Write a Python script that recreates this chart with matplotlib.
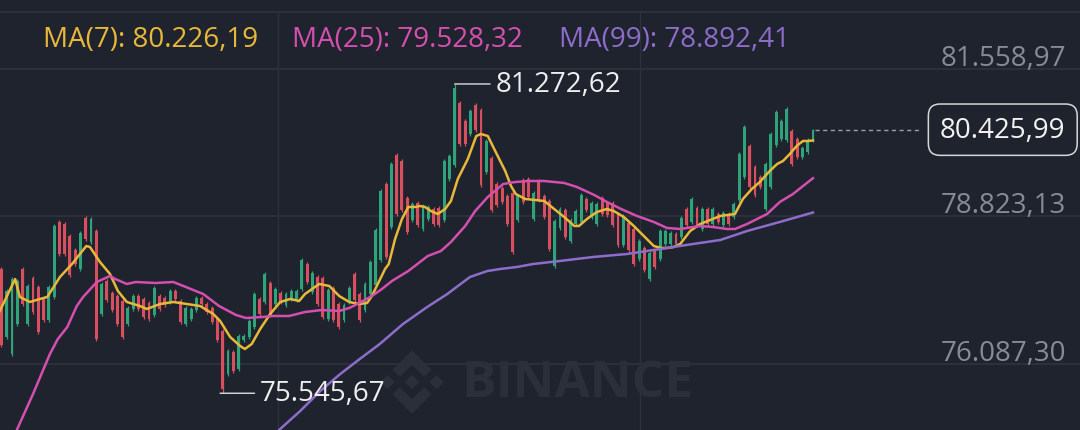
import numpy as np
import matplotlib.pyplot as plt
from matplotlib.patches import Polygon
from matplotlib.lines import Line2D

plt.rcParams['font.family'] = ['Open Sans', 'DejaVu Sans']

# --- candles ---
opens = [77843, 76590, 76275, 76831, 77843, 76831, 77677, 77510, 77306, 76905,
         77331, 78714, 78677, 78454, 78195, 77849, 78788, 78349, 78547, 77016,
         77621, 77399, 77343, 77251, 76831, 77109, 77343, 77288, 77214, 76998,
         77343, 77306, 77238, 77436, 77251, 76831, 76924, 77090, 77306, 77195,
         77121, 76918, 76695, 75905, 76307, 75998, 76535, 76590, 76775, 77288,
         77238, 77584, 77201, 77399, 77183, 77294, 77275, 77479, 77936, 77423,
         77695, 77677, 76924, 77492, 77195, 76905, 77238, 77751, 77380, 77090,
         77386, 77553, 78016, 79417, 78627, 79954, 79843, 79158, 78757, 79066,
         78590, 78775, 78954, 78973, 78757, 79516, 79775, 80917, 80584, 80349,
         80880, 80788, 79646, 79899, 79417, 79343, 79195, 79251, 78757, 79491,
         79510, 78775, 79473, 79195, 79103, 77905, 78609, 78936, 78368, 78683,
         78720, 79140, 78812, 78683, 79158, 79066, 79066, 78862, 78294, 78695,
         78584, 78035, 78232, 77664, 78177, 78035, 78312, 78312, 78492, 78442,
         78954, 78720, 78973, 78590, 78954, 78683, 78862, 78664, 78862, 78812,
         79127, 79553, 80121, 79732, 79547, 78960, 79368, 80145, 80257, 80238,
         80399, 80251, 79923, 80016, 80220]
closes = [76442, 77436, 77658, 77621, 77201, 77529, 77053, 76683, 76905, 77510,
          78640, 78127, 78127, 77738, 77942, 78510, 78405, 78769, 76553, 77566,
          77275, 77090, 76831, 76590, 77121, 77343, 77109, 76961, 76924, 77492,
          77109, 77183, 77436, 77294, 76868, 77121, 77103, 77306, 77201, 77053,
          76868, 76535, 75620, 76325, 75961, 76603, 76603, 76881, 77380, 77016,
          77751, 76998, 77473, 77238, 77380, 77436, 77436, 78010, 77609, 77769,
          77201, 76961, 77455, 76905, 76775, 77177, 77492, 77275, 76905, 77566,
          77973, 78566, 79288, 78072, 79788, 78868, 78942, 78534, 79047, 78664,
          79010, 78991, 78683, 78664, 79843, 79936, 81200, 80164, 80164, 80769,
          80423, 79405, 80214, 78942, 79034, 79090, 78683, 78164, 79195, 79090,
          79183, 79251, 79127, 78812, 78220, 78732, 78954, 78442, 78751, 78917,
          79214, 78942, 79066, 79047, 78868, 78849, 78664, 78294, 78825, 78201,
          77942, 78362, 77831, 78140, 77886, 78547, 78547, 78510, 78312, 78788,
          78664, 79140, 78664, 78954, 78683, 78954, 78720, 78880, 78683, 79047,
          79973, 80473, 79368, 79220, 79368, 79788, 80343, 80751, 80584, 80806,
          79794, 79923, 80084, 80232, 80425.99]
highs = [77883, 77476, 77698, 77661, 77883, 77569, 77717, 77550, 77346, 77550,
         78680, 78754, 78717, 78494, 78235, 78550, 78828, 78809, 78587, 77606,
         77661, 77439, 77383, 77291, 77161, 77383, 77383, 77328, 77254, 77532,
         77383, 77346, 77476, 77476, 77291, 77161, 77143, 77346, 77346, 77235,
         77161, 76958, 76735, 76365, 76347, 76643, 76643, 76921, 77420, 77328,
         77791, 77624, 77513, 77439, 77420, 77476, 77476, 78050, 77976, 77809,
         77735, 77717, 77495, 77532, 77235, 77217, 77532, 77791, 77420, 77606,
         78013, 78606, 79328, 79457, 79828, 79994, 79883, 79198, 79087, 79106,
         79050, 79031, 78994, 79013, 79883, 79976, 81272.62, 80957, 80624, 80809,
         80920, 80828, 80254, 79939, 79457, 79383, 79235, 79291, 79235, 79531,
         79550, 79291, 79513, 79235, 79143, 78772, 78994, 78976, 78791, 78957,
         79254, 79180, 79106, 79087, 79198, 79106, 79106, 78902, 78865, 78735,
         78624, 78402, 78272, 78180, 78217, 78587, 78587, 78550, 78532, 78828,
         78994, 79180, 79013, 78994, 78994, 78994, 78902, 78920, 78902, 79087,
         80013, 80513, 80161, 79772, 79587, 79828, 80383, 80791, 80624, 80846,
         80439, 80291, 80124, 80272, 80440]
lows = [76402, 76550, 76235, 76791, 77161, 76791, 77013, 76643, 76865, 76865,
        77291, 78087, 78087, 77698, 77902, 77809, 78365, 78309, 76513, 76976,
        77235, 77050, 76791, 76550, 76791, 77069, 77069, 76921, 76884, 76958,
        77069, 77143, 77198, 77254, 76828, 76791, 76884, 77050, 77161, 77013,
        76828, 76495, 75545.67, 75865, 75921, 75958, 76495, 76550, 76735, 76976,
        77198, 76958, 77161, 77198, 77143, 77254, 77235, 77439, 77569, 77383,
        77161, 76921, 76884, 76865, 76735, 76865, 77198, 77235, 76865, 77050,
        77346, 77513, 77976, 78032, 78587, 78828, 78902, 78494, 78717, 78624,
        78550, 78735, 78643, 78624, 78717, 79476, 79735, 80124, 80124, 80309,
        80383, 79365, 79606, 78902, 78994, 79050, 78643, 78124, 78717, 79050,
        79143, 78735, 79087, 78772, 78180, 77865, 78569, 78402, 78328, 78643,
        78680, 78902, 78772, 78643, 78828, 78809, 78624, 78254, 78254, 78161,
        77902, 77995, 77791, 77624, 77846, 77995, 78272, 78272, 78272, 78402,
        78624, 78680, 78624, 78550, 78643, 78643, 78680, 78624, 78643, 78772,
        79087, 79513, 79328, 79180, 79328, 78920, 79328, 80105, 80217, 80198,
        79754, 79883, 79883, 79976, 80198]

# --- moving averages (sampled along the drawn lines: candle index, price) ---
ma7_x = [-0.3, 2.6, 3.5, 5.4, 7.3, 8.7, 11.1, 13.4, 14.9, 16.1, 16.8, 18.7, 20.6,
         22.1, 23.8, 26.3, 27.6, 30.1, 32.6, 35.2, 37.7, 40.2, 41.5, 43.4, 45.3,
         46.2, 47.5, 49.1, 51.0, 52.9, 54.8, 56.5, 57.6, 60.3, 62.2, 64.1, 66.0,
         67.9, 69.4, 70.3, 71.6, 72.8, 73.5, 74.7, 76.0, 77.2, 78.5, 79.4, 80.4,
         81.5, 82.8, 84.2, 85.3, 86.6, 88.5, 90.1, 91.0, 92.3, 93.7, 95.6, 96.7,
         97.6, 99.4, 101.3, 103.0, 104.9, 106.8, 108.7, 109.6, 111.1, 113.0,
         114.9, 116.2, 118.1, 120.0, 121.9, 123.8, 125.2, 126.3, 127.6, 128.8,
         130.7, 132.6, 134.5, 136.4, 139.2, 140.7, 142.4, 143.9, 145.8, 147.2,
         148.3, 149.6, 150.9, 152.1, 153.1, 154]
ma7 = [77069, 77661, 77328, 77235, 77291, 77328, 77698, 77939, 78124, 78272,
       78254, 77976, 77754, 77439, 77235, 77161, 77106, 77198, 77235, 77198,
       77161, 77013, 76884, 76588, 76421, 76365, 76458, 76735, 77013, 77235,
       77291, 77254, 77383, 77569, 77532, 77346, 77235, 77198, 77217, 77346,
       77606, 77846, 77939, 78402, 78772, 78994, 78994, 79013, 78994, 78920,
       78865, 78957, 79106, 79513, 79883, 80309, 80346, 80309, 80031, 79661,
       79383, 79235, 79143, 79124, 79106, 78957, 78809, 78643, 78643, 78772,
       78902, 78957, 78920, 78809, 78643, 78457, 78272, 78235, 78235, 78254,
       78309, 78550, 78680, 78754, 78828, 78865, 79143, 79328, 79457, 79661,
       79791, 79846, 79976, 80124, 80217, 80217, 80226.19]
ma25_x = [2.0, 3.0, 6.0, 9.2, 10.7, 12.5, 14.3, 15.5, 18.1, 20.6, 21.6, 23.8,
          25.5, 29.3, 32.6, 35.0, 38.3, 41.3, 44.5, 46.4, 49.6, 51.3, 54.6,
          57.6, 60.8, 64.1, 66.0, 67.9, 70.3, 72.2, 74.1, 77.2, 80.9, 83.4,
          85.3, 88.0, 89.9, 92.3, 95.2, 97.5, 100.0, 103.0, 106.8, 109.2,
          112.5, 114.9, 117.6, 120.6, 123.8, 126.3, 128.8, 132.6, 135.0,
          137.7, 139.2, 141.5, 145.3, 147.7, 150.2, 154]
ma25 = [74606, 74883, 75532, 76272, 76550, 76772, 77161, 77328, 77606, 77717,
        77661, 77569, 77606, 77587, 77606, 77513, 77383, 77161, 76995, 76939,
        76958, 76976, 76976, 77050, 77087, 77069, 77124, 77217, 77346, 77476,
        77624, 77809, 78087, 78180, 78346, 78643, 78920, 79180, 79420, 79457,
        79476, 79476, 79439, 79365, 79217, 79087, 78957, 78828, 78717, 78606,
        78587, 78643, 78624, 78587, 78587, 78680, 78865, 79087, 79235, 79528.32]
ma99_x = [49.5, 52.9, 56.7, 60.5, 64.3, 68.0, 71.8, 76.2, 80.8, 84.6, 88.9,
          92.2, 94.6, 97.8, 100.9, 106.0, 112.3, 118.7, 125.0, 131.2, 136.4,
          141.5, 147.7, 154]
ma99 = [74550, 74884, 75217, 75587, 75902, 76180, 76458, 76828, 77143, 77383,
        77698, 77809, 77846, 77883, 77939, 77995, 78069, 78124, 78217, 78309,
        78383, 78550, 78717, 78892.41]

ma_labels = ['MA(7)', 'MA(25)', 'MA(99)']
price_levels = [81558.97, 78823.13, 76087.30]
time_grid = [52.5, 121.2]

BG = '#1f232d'
GRID = '#2d313b'
UP = '#2fa47b'
DOWN = '#d8505f'
MA_COLORS = ['#e8b83a', '#d54fb0', '#8d6dcb']
AXIS_TXT = '#868b95'
FS = 20


def fmt(v):
    s = f"{v:,.2f}"
    return s.replace(",", " ").replace(".", ",").replace(" ", ".")


fig = plt.figure(figsize=(10.8, 4.31), dpi=100, facecolor=BG)
ax = fig.add_axes([0, 0, 1, 1])
ax.set_facecolor(BG)
ax.set_xlim(-0.27, 204.67)
ax.set_ylim(74865, 82846)
ax.axis('off')

# grid
for lv in price_levels:
    ax.axhline(lv, color=GRID, lw=1.4, zorder=0)
for t in time_grid:
    ax.axvline(t, ymax=0.97, color=GRID, lw=1.0, zorder=0)
fig.add_artist(Line2D([0, 1], [0.969, 0.969], color=GRID, lw=1.4))

# watermark
fig.text(577 / 1080, 1 - 384 / 431, 'BINANCE', color='#2a2f3a', fontsize=37,
         fontweight='bold', ha='center', va='center', zorder=0)
cx, cy, k = 412, 431 - 383, 0.5
logo = [
    [(38.73, 53.2), (63.3, 28.64), (87.89, 53.22), (102.19, 38.92), (63.3, 0), (24.43, 38.9)],
    [(0, 63.3), (14.3, 49), (28.6, 63.3), (14.3, 77.6)],
    [(38.73, 73.41), (63.3, 97.98), (87.89, 73.39), (102.2, 87.69), (63.3, 126.6), (24.43, 87.71)],
    [(98, 63.31), (112.3, 49), (126.6, 63.3), (112.3, 77.61)],
    [(77.83, 63.3), (63.3, 48.76), (48.78, 63.28), (63.3, 77.79)],
]
for poly in logo:
    pts = [(cx + (px - 63.3) * k, cy - (py - 63.3) * k) for px, py in poly]
    fig.add_artist(Polygon(pts, closed=True, transform=None, fc='#2a2f3a', ec='none', zorder=0))

# candles
idx = np.arange(len(opens))
o, c, h, l = map(np.array, (opens, closes, highs, lows))
col = np.where(c >= o, UP, DOWN)
ax.vlines(idx, l, h, colors=col, lw=0.9, zorder=2)
ax.bar(idx, np.maximum(np.abs(c - o), 15), bottom=np.minimum(o, c), width=0.55,
       color=col, zorder=2)

# moving averages
for xs, ys, cc in zip([ma7_x, ma25_x, ma99_x], [ma7, ma25, ma99], MA_COLORS):
    ax.plot(xs, ys, color=cc, lw=1.8, zorder=3, solid_joinstyle='round')

# legend text on top
for xp, lab, val, cc in zip([43, 292, 559], ma_labels, [ma7[-1], ma25[-1], ma99[-1]], MA_COLORS):
    fig.text(xp / 1080, 1 - 40 / 431, f"{lab}: {fmt(val)}", color=cc, fontsize=FS,
             ha='left', va='center')

# price axis labels
for lv in price_levels:
    ax.annotate(fmt(lv), xy=(1.0, lv), xycoords=('axes fraction', 'data'),
                xytext=(-14, -3), textcoords='offset pixels', ha='right', va='bottom',
                color=AXIS_TXT, fontsize=FS)

# high / low markers
hi_i = int(np.argmax(h))
lo_i = int(np.argmin(l))
ax.annotate(fmt(h[hi_i]), xy=(hi_i, h[hi_i]), xytext=(41, 0), textcoords='offset pixels',
            va='center', ha='left', color='#eeeeee', fontsize=FS,
            arrowprops=dict(arrowstyle='-', color='#dddddd', lw=1.0, shrinkA=2, shrinkB=0,
                            relpos=(0, 0.5)))
ax.annotate(fmt(l[lo_i]), xy=(lo_i - 0.5, l[lo_i]), xytext=(40, 0), textcoords='offset pixels',
            va='center', ha='left', color='#eeeeee', fontsize=FS,
            arrowprops=dict(arrowstyle='-', color='#dddddd', lw=1.0, shrinkA=2, shrinkB=0,
                            relpos=(0, 0.5)))

# last price
last = closes[-1]
ax.hlines(last, idx[-1] + 0.3, 174.7, colors='#9a9ea6', lw=1.0, linestyles=(0, (3, 2.5)))
ax.annotate(fmt(last), xy=(0.9285, last), xycoords=('axes fraction', 'data'),
            ha='center', va='center', color='#f2f2f2', fontsize=FS,
            bbox=dict(boxstyle='round,pad=0.42,rounding_size=0.42', fc=BG, ec='#d6d6d6', lw=1.1))

fig.savefig('out.png', dpi=100, facecolor=BG)
